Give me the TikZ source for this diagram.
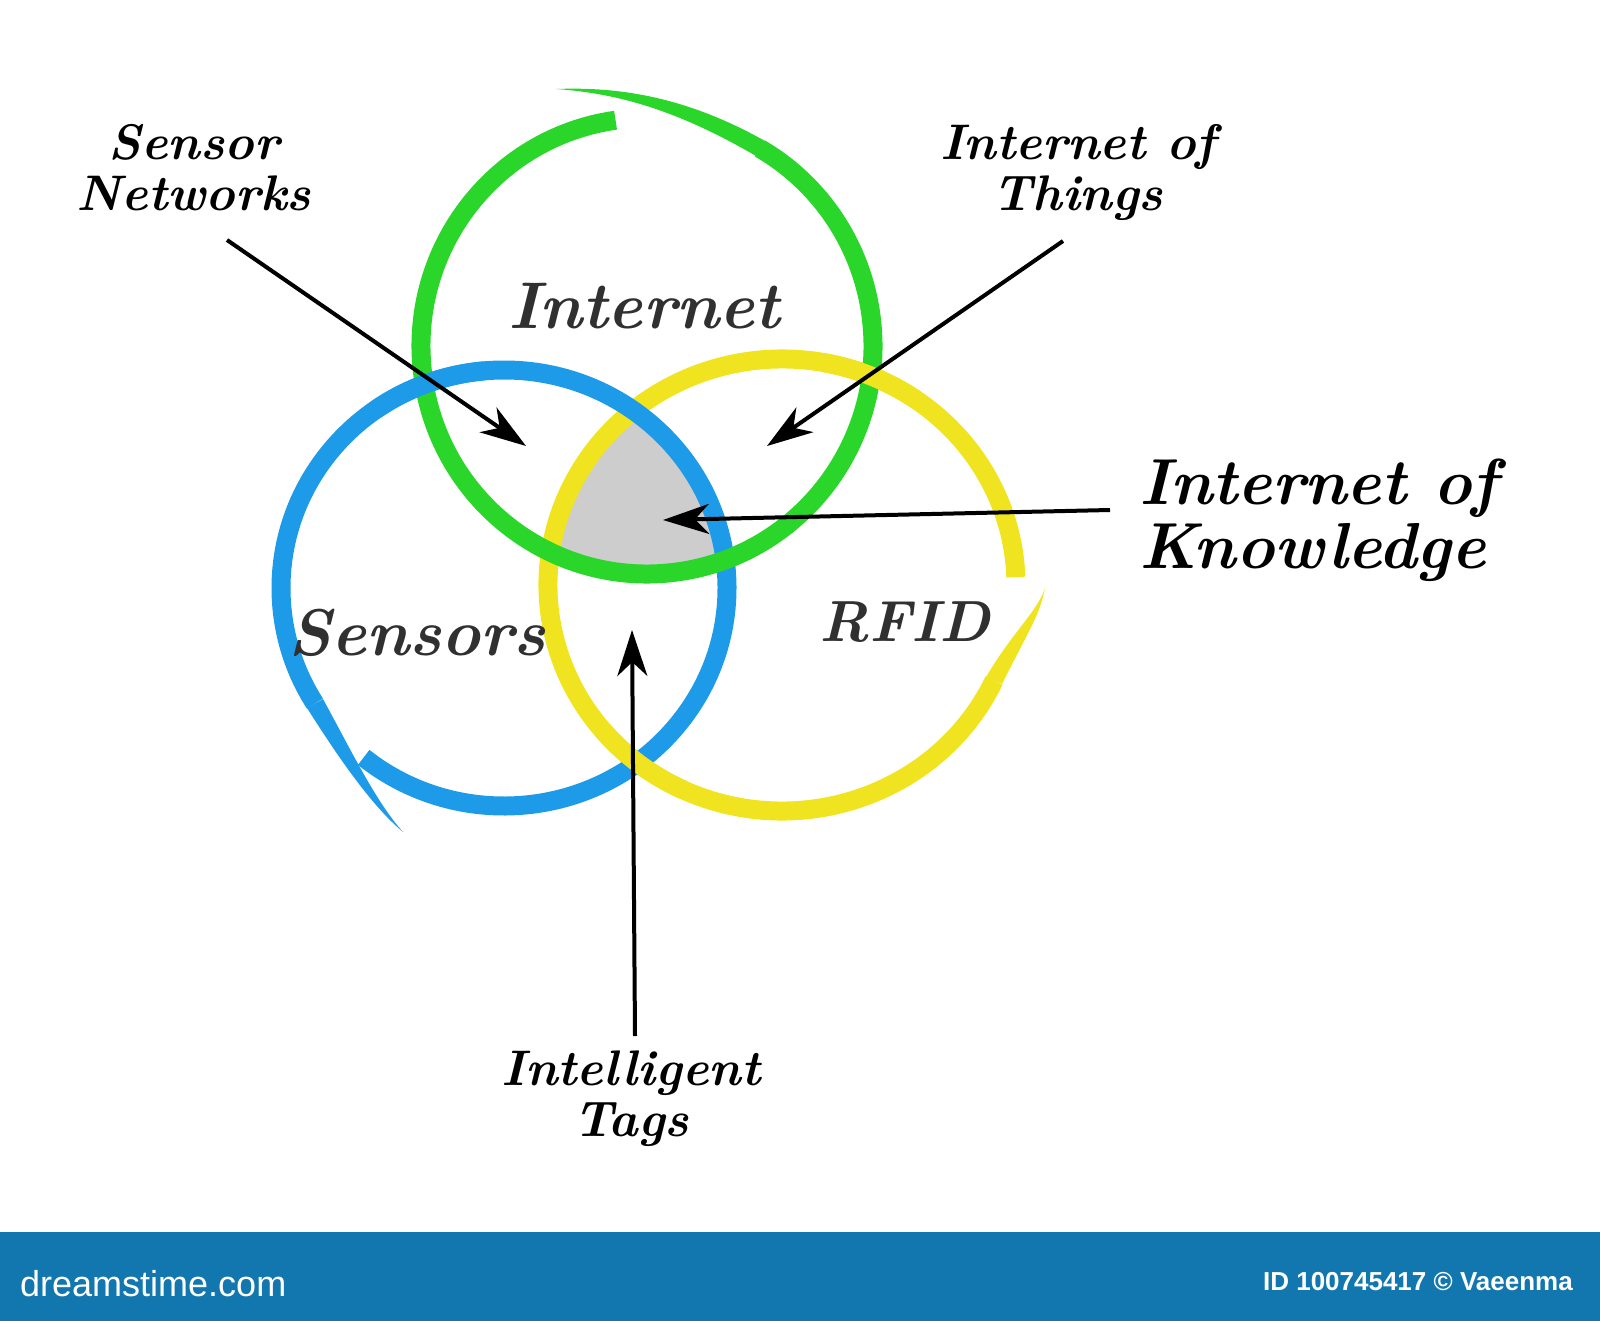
\documentclass[tikz,border=0pt]{standalone}
\usepackage{fontspec}
\usepackage{xcolor}
\usepackage{tikz}
\usetikzlibrary{arrows.meta,calc}
\newfontfamily\barfont{Liberation Sans}
\definecolor{netGreen}{RGB}{42,214,42}
\definecolor{sensBlue}{RGB}{30,155,232}
\definecolor{rfidYellow}{RGB}{240,228,32}
\definecolor{coreGray}{RGB}{205,205,205}
\definecolor{barBlue}{RGB}{17,119,174}
\definecolor{inkGray}{RGB}{48,48,48}

\begin{document}
\begin{tikzpicture}[
x=1pt, y=-1pt,
pen/.style={line width=19pt},
arrow/.style={-{Stealth[length=46pt,width=30pt,inset=14pt]}, line width=4pt},
circlabel/.style={font=\fontsize{66}{70}\selectfont\bfseries\itshape, text=inkGray},
sidelabel/.style={font=\fontsize{50}{51}\selectfont\bfseries\itshape, align=center},
biglabel/.style={font=\fontsize{65}{64}\selectfont\bfseries\itshape, align=left},
barlabel/.style={text=white, inner sep=0pt}
]
\useasboundingbox (0,0) rectangle (1600,1321);

\coordinate (gc) at (647,346);
\coordinate (bc) at (504,588);
\coordinate (yc) at (782,585);

% common part of the three rings
\begin{scope}
\clip (gc) ellipse [x radius=226, y radius=228];
\clip (bc) ellipse [x radius=223, y radius=218];
\fill[coreGray] (yc) ellipse [x radius=234, y radius=226];
\end{scope}

% RFID ring
\fill[rfidYellow] (1045,588) .. controls (1040,615) and (1028,632) .. (1002,684)
  -- (986,677) .. controls (1014,630) and (1037,612) .. cycle;
\draw[rfidYellow, pen] ($(yc)+(25:234 and 226)$) arc[start angle=25, end angle=358, x radius=234, y radius=226];

% Sensors ring
\draw[sensBlue, pen] ($(bc)+(129:223 and 218)$) arc[start angle=129, end angle=-212, x radius=223, y radius=218];
\fill[sensBlue] (307,708) .. controls (340,760) and (372,806) .. (403,832)
  .. controls (376,802) and (352,752) .. (323,699) -- cycle;

% Internet ring
\draw[netGreen, pen] ($(gc)+(262:226 and 228)$) arc[start angle=262, end angle=-60, x radius=226, y radius=228];
\fill[netGreen] (765,141) .. controls (680,93) and (610,87) .. (556,89)
  .. controls (612,93) and (672,107) .. (756,156) -- cycle;

% crossings drawn over the green ring
\draw[sensBlue, pen] ($(bc)+(-125:223 and 218)$) arc[start angle=-125, end angle=-95, x radius=223, y radius=218];
\draw[rfidYellow, pen] ($(yc)+(-80:234 and 226)$) arc[start angle=-80, end angle=-55, x radius=234, y radius=226];
\draw[rfidYellow, pen] ($(yc)+(115:234 and 226)$) arc[start angle=115, end angle=140, x radius=234, y radius=226];

\node[circlabel] (internet) at (644,306) {Internet};
\node[circlabel] (sensors) at (417,633) {Sensors};
\node[circlabel, font=\fontsize{58}{60}\selectfont\bfseries\itshape] (rfid) at (905,622) {RFID};

\node[sidelabel] (sensnet) at (194,168) {Sensor\\Networks};
\node[sidelabel] (iot) at (1078,173) {Internet of\\Things};
\node[biglabel, anchor=west] (iok) at (1136,520) {Internet of\\Knowledge};
\node[sidelabel] (tags) at (631,1099) {Intelligent\\Tags};

\coordinate (sensnet-end) at (227,240);
\coordinate (iot-end) at (1063,241);
\coordinate (iok-end) at (1110,510);
\coordinate (tags-end) at (635,1036);
\coordinate (sensnet-tip) at (526,446);
\coordinate (iot-tip) at (767,446);
\coordinate (iok-tip) at (663,520);
\coordinate (tags-tip) at (632,630);

\draw[arrow] (sensnet-end) -- (sensnet-tip);
\draw[arrow] (iot-end) -- (iot-tip);
\draw[arrow] (iok-end) -- (iok-tip);
\draw[arrow] (tags-end) -- (tags-tip);

% footer bar
\fill[barBlue] (0,1232) rectangle (1600,1321);
\node[barlabel, anchor=west, font=\barfont\fontsize{36}{40}\selectfont] (site) at (20,1284) {dreamstime.com};
\node[barlabel, anchor=east, font=\barfont\bfseries\fontsize{26}{30}\selectfont] (credit) at (1573,1282) {ID 100745417 © Vaeenma};
\end{tikzpicture}
\end{document}
